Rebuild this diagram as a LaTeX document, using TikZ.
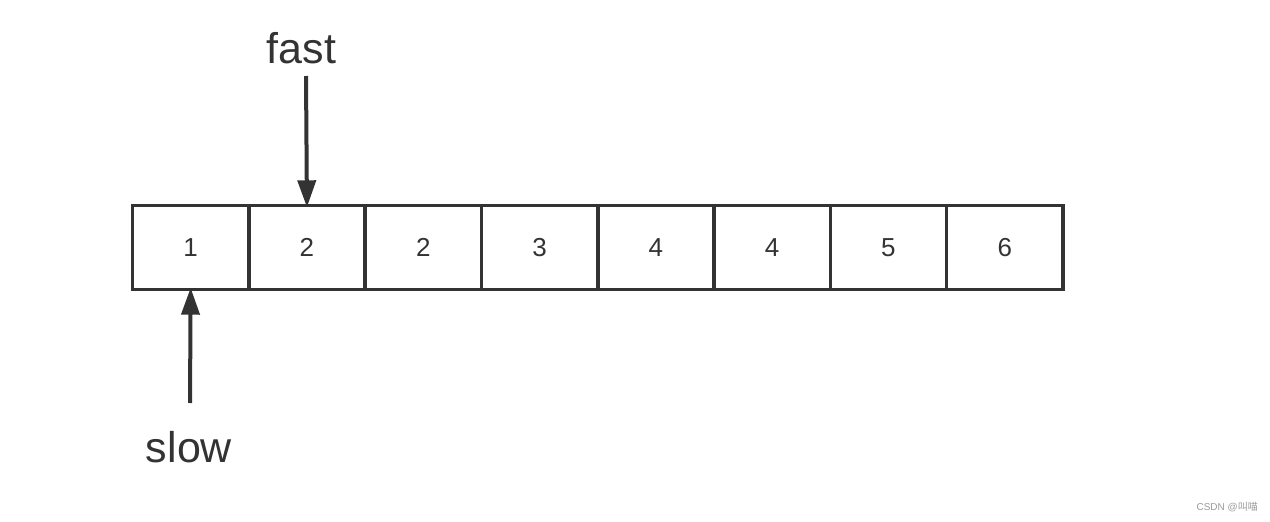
\documentclass[tikz,border=0pt]{standalone}
\usepackage{fontspec}
\setmainfont{Liberation Sans}
\newfontfamily\cjk{Noto Sans CJK SC}
\usetikzlibrary{arrows.meta}
\definecolor{ink}{HTML}{333333}
\definecolor{wm}{HTML}{9A9A9A}
\begin{document}
\begin{tikzpicture}[x=1pt,y=-1pt,
  cell/.style={draw=ink,line width=3.6pt,minimum width=116.3pt,minimum height=84pt,inner sep=0pt,outer sep=0pt,
    font=\fontsize{26}{26}\selectfont,text=ink,anchor=west,text height=18.6pt,text depth=0pt},
  ptr/.style={draw=ink,line width=4pt,-{Triangle[length=27pt,width=18pt]}},
  lab/.style={font=\fontsize{43}{43}\selectfont,text=ink,inner sep=0pt}]
\useasboundingbox (0,0) rectangle (1270,522);
\node[cell] (c1) at (132.5,247.5) {1};
\node[cell] (c2) at (c1.east) {2};
\node[cell] (c3) at (c2.east) {2};
\node[cell] (c4) at (c3.east) {3};
\node[cell] (c5) at (c4.east) {4};
\node[cell] (c6) at (c5.east) {4};
\node[cell] (c7) at (c6.east) {5};
\node[cell] (c8) at (c7.east) {6};
\node[lab,anchor=base] (fast) at (301.5,63) {fast};
\node[lab,anchor=base] (slow) at (189,462) {slow};
\coordinate (fs) at (306,76);
\coordinate (ss) at (190,403);
\draw[ptr] (fs) -- ([yshift=-1.8pt]c2.north);
\draw[ptr] (ss) -- ([yshift=1.8pt]c1.south);
\node[font=\fontsize{10}{10}\selectfont,text=wm,anchor=east,inner sep=0pt] (wmk) at (1258,507) {CSDN @{\cjk 叫喵}};
\end{tikzpicture}
\end{document}
